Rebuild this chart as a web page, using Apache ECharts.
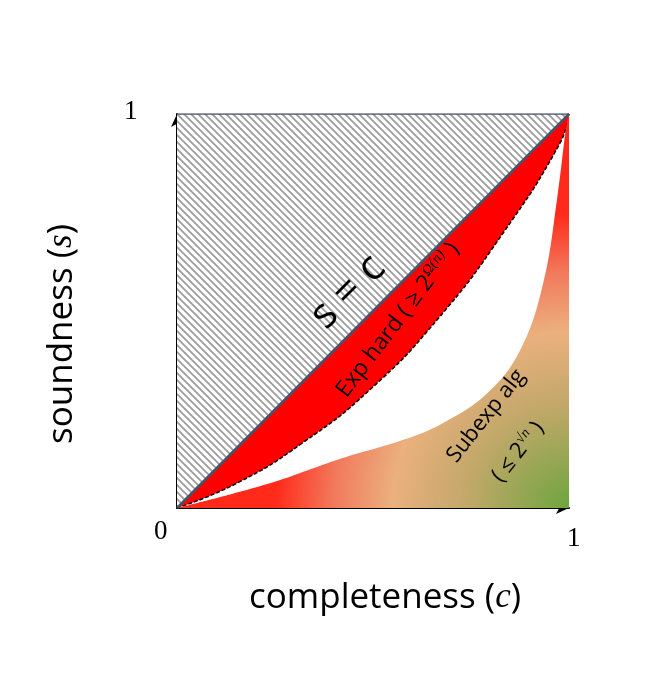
<!DOCTYPE html>
<html><head><meta charset="utf-8">
<script src="https://cdn.jsdelivr.net/npm/echarts@6/dist/echarts.min.js"></script>
<style>html,body{margin:0;padding:0;background:#fff}#c{width:655px;height:677px}</style>
</head><body><div id="c"></div>
<script>
const diagC = [0, 1];
const diagS = [0, 1];
const expC = [0, 0.153, 0.32, 0.492, 0.663, 0.832, 0.977, 1];
const expS = [0, 0.063, 0.165, 0.30, 0.477, 0.698, 0.926, 1];
const subC = [0, 0.237, 0.408, 0.577, 0.679, 0.79, 0.875, 0.934, 0.969, 0.995, 1];
const subS = [0, 0.063, 0.122, 0.173, 0.216, 0.29, 0.40, 0.57, 0.78, 0.985, 1];
const tickLabels = ['0', '1'];

const zip = (a, b) => a.map((v, i) => [v, b[i]]);
const N = 7;
const pc = document.createElement('canvas');
pc.width = N; pc.height = N;
const g = pc.getContext('2d');
g.fillStyle = '#fff'; g.fillRect(0, 0, N, N);
g.strokeStyle = '#999'; g.lineWidth = 1.6;
g.beginPath(); g.moveTo(-1, -1); g.lineTo(N + 1, N + 1); g.moveTo(-1, N - 1); g.lineTo(1, N + 1); g.moveTo(N - 1, -1); g.lineTo(N + 1, 1); g.stroke();

const chart = echarts.init(document.getElementById('c'));
const serif = 'Liberation Serif';
chart.setOption({
  animation: false,
  grid: { left: 177, right: 86, top: 114, bottom: 169 },
  xAxis: { type: 'value', min: 0, max: 1, interval: 1,
    axisLine: { lineStyle: { color: '#000', width: 2 }, symbol: ['none', 'arrow'], symbolSize: [9, 13] },
    axisTick: { show: false }, splitLine: { show: false }, axisLabel: { show: false } },
  yAxis: { type: 'value', min: 0, max: 1, interval: 1,
    axisLine: { show: true, lineStyle: { color: '#000', width: 2 }, symbol: ['none', 'arrow'], symbolSize: [9, 13] },
    axisTick: { show: false }, splitLine: { show: false }, axisLabel: { show: false } },
  series: [
    { type: 'line', data: zip(diagC, diagS), symbol: 'none', lineStyle: { width: 0 },
      areaStyle: { origin: 'end', color: { image: pc, repeat: 'repeat' }, opacity: 1 }, z: 1 },
    { type: 'line', data: zip(diagC, diagS), symbol: 'none', lineStyle: { width: 0 },
      areaStyle: { origin: 'start', color: '#ff0000', opacity: 1 }, z: 1 },
    { type: 'line', data: zip(expC, expS), symbol: 'none', smooth: true,
      lineStyle: { color: '#000', width: 1.5, type: [4, 2] },
      areaStyle: { origin: 'start', color: '#fff', opacity: 1 }, z: 2 },
    { type: 'line', data: zip(subC, subS), symbol: 'none', smooth: 0.4,
      lineStyle: { width: 0 },
      areaStyle: { origin: 'start', opacity: 1, color: { type: 'radial', x: 1, y: 1, r: 0.75,
        colorStops: [{ offset: 0, color: '#6ea53e' }, { offset: 0.35, color: '#c2a86a' },
          { offset: 0.6, color: '#ebb07e' }, { offset: 0.8, color: '#f27a5c' }, { offset: 1, color: '#ff2a1a' }] } }, z: 3 },
    { type: 'line', data: zip(diagC, diagS), symbol: 'none', lineStyle: { color: '#44546a', width: 2.5 }, z: 4 },
    { type: 'line', data: [[0, 1], [1, 1]], symbol: 'none', lineStyle: { color: '#44546a', width: 1.5 }, z: 4 }
  ],
  graphic: [
    { type: 'text', left: 124, top: 98, style: { text: tickLabels[1], font: '27px ' + serif, fill: '#000' } },
    { type: 'text', left: 154, top: 518, style: { text: tickLabels[0], font: '27px ' + serif, fill: '#000' } },
    { type: 'text', left: 567, top: 525, style: { text: tickLabels[1], font: '27px ' + serif, fill: '#000' } },
    { type: 'text', x: 62, y: 334, rotation: Math.PI / 2, style: { text: '{a|soundness (}{b|s}{a|)}', align: 'center', verticalAlign: 'middle',
      rich: { a: { font: '35px Open Sans', fill: '#000' }, b: { font: 'italic 35px ' + serif, fill: '#000' } } } },
    { type: 'text', x: 385, y: 598, style: { text: '{a|completeness (}{b|c}{a|)}', align: 'center', verticalAlign: 'middle',
      rich: { a: { font: '35px Open Sans', fill: '#000' }, b: { font: 'italic 35px ' + serif, fill: '#000' } } } },
    { type: 'text', x: 348, y: 292, rotation: Math.PI / 4, z: 10, style: { text: 's = c', align: 'center', verticalAlign: 'middle',
      font: '42px Open Sans', fill: '#000' } },
    { type: 'text', x: 398, y: 320, rotation: 0.92, z: 10, style: { text: '{a|Exp hard ( ≥ 2}{s|Ω(n)}{a| )}', align: 'center', verticalAlign: 'middle',
      rich: { a: { font: '23px Open Sans', fill: '#000' }, s: { font: 'italic 15px ' + serif, fill: '#000', padding: [0, 0, 12, 0] } } } },
    { type: 'text', x: 486, y: 416, rotation: 0.9, z: 10, style: { text: 'Subexp alg', align: 'center', verticalAlign: 'middle',
      font: '22px Open Sans', fill: '#000' } },
    { type: 'text', x: 518, y: 452, rotation: 0.9, z: 10, style: { text: '{a|( ≤ 2}{s|√n}{a| )}', align: 'center', verticalAlign: 'middle',
      rich: { a: { font: '22px Open Sans', fill: '#000' }, s: { font: 'italic 14px ' + serif, fill: '#000', padding: [0, 0, 12, 0] } } } }
  ]
});
</script></body></html>
